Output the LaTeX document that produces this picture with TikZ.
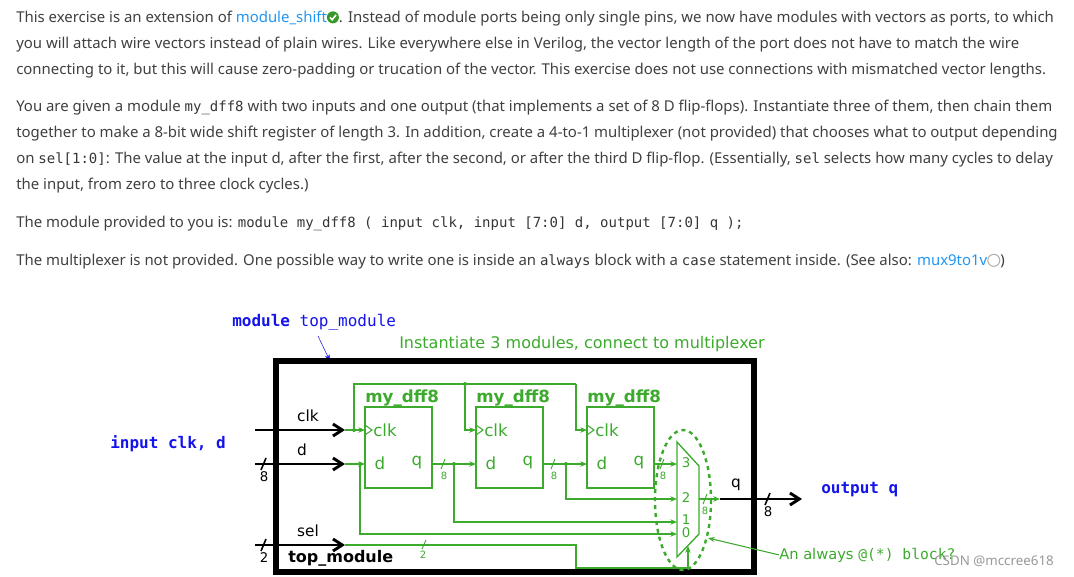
\documentclass[tikz,border=0pt]{standalone}
\usepackage{fontspec}
\setmainfont{Noto Sans}
\newfontfamily\dg{DejaVu Sans}
\newfontfamily\dm{DejaVu Sans Mono}
\usetikzlibrary{arrows.meta,calc}
\definecolor{gtxt}{RGB}{64,64,64}
\definecolor{lnk}{RGB}{33,150,243}
\definecolor{grn}{RGB}{60,170,45}
\definecolor{blu}{RGB}{20,20,235}
\newcommand{\cd}[1]{{\dm\fontsize{10.5}{12}\selectfont\color{gtxt!85!black}#1}}
\newcommand{\ok}{\tikz[baseline=-3.5pt]{\fill[grn!90!black] (0,0) circle (4.5pt);\draw[white,line width=1.2pt] (-2.2pt,0)--(-0.6pt,-1.8pt)--(2.4pt,1.8pt);}}
\newcommand{\oc}{\tikz[baseline=-3.5pt]{\draw[gray!60,line width=0.8pt] (0,0) circle (4.5pt);}}
\begin{document}
\begin{tikzpicture}[x=0.75pt,y=-0.75pt,
  para/.style={anchor=base west,inner sep=0,text=gtxt,font=\fontsize{11.2}{13}\selectfont},
  gw/.style={draw=grn,line width=1pt},
  ga/.style={gw,-{Stealth[length=5pt,width=4pt]}},
  bw/.style={draw=black,line width=2.2pt,-{Straight Barb[length=7pt,width=9pt]}},
  box/.style={draw=grn,line width=2.2pt},
  gl/.style={text=grn,font=\dg\fontsize{12.5}{13}\selectfont,inner sep=0},
  sm/.style={text=grn,font=\dg\fontsize{7.5}{8}\selectfont,inner sep=0},
  dot/.style={circle,fill=grn,inner sep=0,minimum size=3pt}]
\useasboundingbox (0,0) rectangle (1074,576);
\fill[white] (0,0) rectangle (1074,576);
% paragraphs
\node[para] (l1) at (16,22) {This exercise is an extension of \textcolor{lnk}{module\_shift}\ok. Instead of module ports being only single pins, we now have modules with vectors as ports, to which};
\node[para] (l2) at (16,48) {you will attach wire vectors instead of plain wires. Like everywhere else in Verilog, the vector length of the port does not have to match the wire};
\node[para] (l3) at (16,74) {connecting to it, but this will cause zero-padding or trucation of the vector. This exercise does not use connections with mismatched vector lengths.};
\node[para] (l4) at (16,111) {You are given a module \cd{my\_dff8} with two inputs and one output (that implements a set of 8 D flip-flops). Instantiate three of them, then chain them};
\node[para] (l5) at (16,137) {together to make a 8-bit wide shift register of length 3. In addition, create a 4-to-1 multiplexer (not provided) that chooses what to output depending};
\node[para] (l6) at (16,163) {on \cd{sel[1:0]}: The value at the input d, after the first, after the second, or after the third D flip-flop. (Essentially, \cd{sel} selects how many cycles to delay};
\node[para] (l7) at (16,189) {the input, from zero to three clock cycles.)};
\node[para] (l8) at (16,227) {The module provided to you is: \cd{module my\_dff8 ( input clk, input [7:0] d, output [7:0] q );}};
\node[para] (l9) at (16,265) {The multiplexer is not provided. One possible way to write one is inside an \cd{always} block with a \cd{case} statement inside. (See also: \textcolor{lnk}{mux9to1v}\oc)};
% diagram titles
\node[anchor=base west,inner sep=0,text=blu,font=\dm\fontsize{12}{13}\selectfont] (mt) at (232,326) {\textbf{module} top\_module};
\coordinate (mtp) at (330,361);
\draw[blu,-{Stealth[length=5pt]}] (318,336) -- (mtp);
\node[anchor=base west,gl,font=\dg\fontsize{12}{13}\selectfont] (inst) at (399,348) {Instantiate 3 modules, connect to multiplexer};
\draw[line width=4pt] (276,361) rectangle (754,572);
\node[anchor=base west,inner sep=0,font=\dg\bfseries\fontsize{12}{13}\selectfont] (tm) at (288,562) {top\_module};
% dffs
\foreach \n/\x in {a/365,b/476,c/587}{
  \draw[box] (\x,407) rectangle ++(67,81);
  \coordinate (\n clk) at (\x,430);
  \coordinate (\n d) at (\x,464);
  \coordinate (\n q) at (\x+67,464);
  \node[anchor=base west,text=grn,inner sep=0,font=\dg\bfseries\fontsize{12.5}{13}\selectfont] (\n t) at (\x,402) {my\_dff8};
  \node[anchor=west,gl] (\n cl) at (\x+8,430) {clk};
  \draw[grn,line width=0.8pt] (\x,425)--(\x+7,430)--(\x,435);
  \node[gl] (\n dl) at (\x+15,463) {d};
  \node[gl] (\n ql) at (\x+52,463) {q};
}
% external inputs
\coordinate (ci) at (255,430); \coordinate (ce) at (345,430);
\coordinate (di) at (255,464); \coordinate (de) at (345,464);
\coordinate (si) at (255,545); \coordinate (se) at (345,545);
\draw[bw] (ci) -- (ce); \draw[bw] (di) -- (de); \draw[bw] (si) -- (se);
\node[anchor=base,inner sep=0,font=\dg\fontsize{11.5}{12}\selectfont] (clkl) at (308,421) {clk};
\node[anchor=base,inner sep=0,font=\dg\fontsize{11.5}{12}\selectfont] (dl) at (302,455) {d};
\node[anchor=base,inner sep=0,font=\dg\fontsize{11.5}{12}\selectfont] (sell) at (308,536) {sel};
\draw[line width=1.2pt] (261,470)--(266,458); \node[font=\dg\fontsize{10}{11}\selectfont,inner sep=0] (d8) at (264,477) {8};
\draw[line width=1.2pt] (261,551)--(266,539); \node[font=\dg\fontsize{10}{11}\selectfont,inner sep=0] (s2) at (264,558) {2};
\node[anchor=base west,inner sep=0,text=blu,font=\dm\bfseries\fontsize{12}{13}\selectfont] (inl) at (110,448) {input clk, d};
% mux
\draw[grn,line width=1pt] (677,442) -- (699,466) -- (699,534) -- (677,557) -- cycle;
\coordinate (m3) at (677,464); \coordinate (m2) at (677,499);
\coordinate (m1) at (677,522); \coordinate (m0) at (677,534);
\coordinate (ms) at (688,546); \coordinate (mo) at (699,499);
\foreach \v/\y in {3/463,2/498,1/520,0/533}{\node[sm,font=\dg\fontsize{10}{10}\selectfont] (n\v) at (686,\y) {\v};}
% clock wiring
\node[dot] (cd1) at (354,430) {};
\draw[ga] (ce) -- (aclk);
\draw[gw] (cd1) -- (354,384) -- (576,384);
\node[dot] (cd2) at (465,384) {};
\draw[ga] (cd2) -- (465,430) -- (bclk);
\draw[ga] (576,384) -- (576,430) -- (cclk);
% data
\node[dot] (dd1) at (360,464) {};
\draw[ga] (de) -- (ad);
\draw[ga] (dd1) -- (360,534) -- (m0);
\draw[ga] (aq) -- (bd); \node[dot] (qd1) at (454,464) {};
\draw[ga] (qd1) -- (454,522) -- (m1);
\draw[ga] (bq) -- (cd); \node[dot] (qd2) at (566,464) {};
\draw[ga] (qd2) -- (566,499) -- (m2);
\draw[ga] (cq) -- (m3);
\foreach \x in {443,553,662}{\draw[gw,line width=0.7pt] (\x-2,469)--(\x+2,459); \node[sm] at (\x+1,476) {8};}
% sel
\draw[ga] (se) -- (576,545) -- (576,568) -- (688,568) -- (ms);
\draw[gw,line width=0.7pt] (422,549)--(426,540); \node[sm] (s2g) at (423,555) {2};
% output
\coordinate (oq) at (720,499); \coordinate (oe) at (802,499);
\draw[ga] (mo) -- (oq);
\draw[gw,line width=0.7pt] (703,504)--(707,494); \node[sm] (o8) at (705,511) {8};
\draw[bw] (oq) -- (oe);
\draw[line width=1.2pt] (765,505)--(770,493); \node[font=\dg\fontsize{10}{11}\selectfont,inner sep=0] (q8) at (768,512) {8};
\node[anchor=base,inner sep=0,font=\dg\fontsize{11.5}{12}\selectfont] (ql) at (736,487) {q};
\node[anchor=base west,inner sep=0,text=blu,font=\dm\bfseries\fontsize{12}{13}\selectfont] (outl) at (821,493) {output q};
% ellipse
\draw[grn,line width=1.8pt,dash pattern=on 3pt off 3pt] (683,500) ellipse (28 and 70);
\coordinate (ea) at (708,538);
\node[anchor=base west,inner sep=0,text=grn,font=\dg\fontsize{11}{12}\selectfont] (alw) at (779,559) {An always \dm @(*) block?};
\draw[grn,line width=0.8pt,-{Stealth[length=5pt]}] (alw.west) -- (ea);
\node[anchor=base west,inner sep=0,text=gray!80,font=\fontsize{10}{11}\selectfont] (wm) at (934,565) {CSDN @mccree618};
\end{tikzpicture}
\end{document}
